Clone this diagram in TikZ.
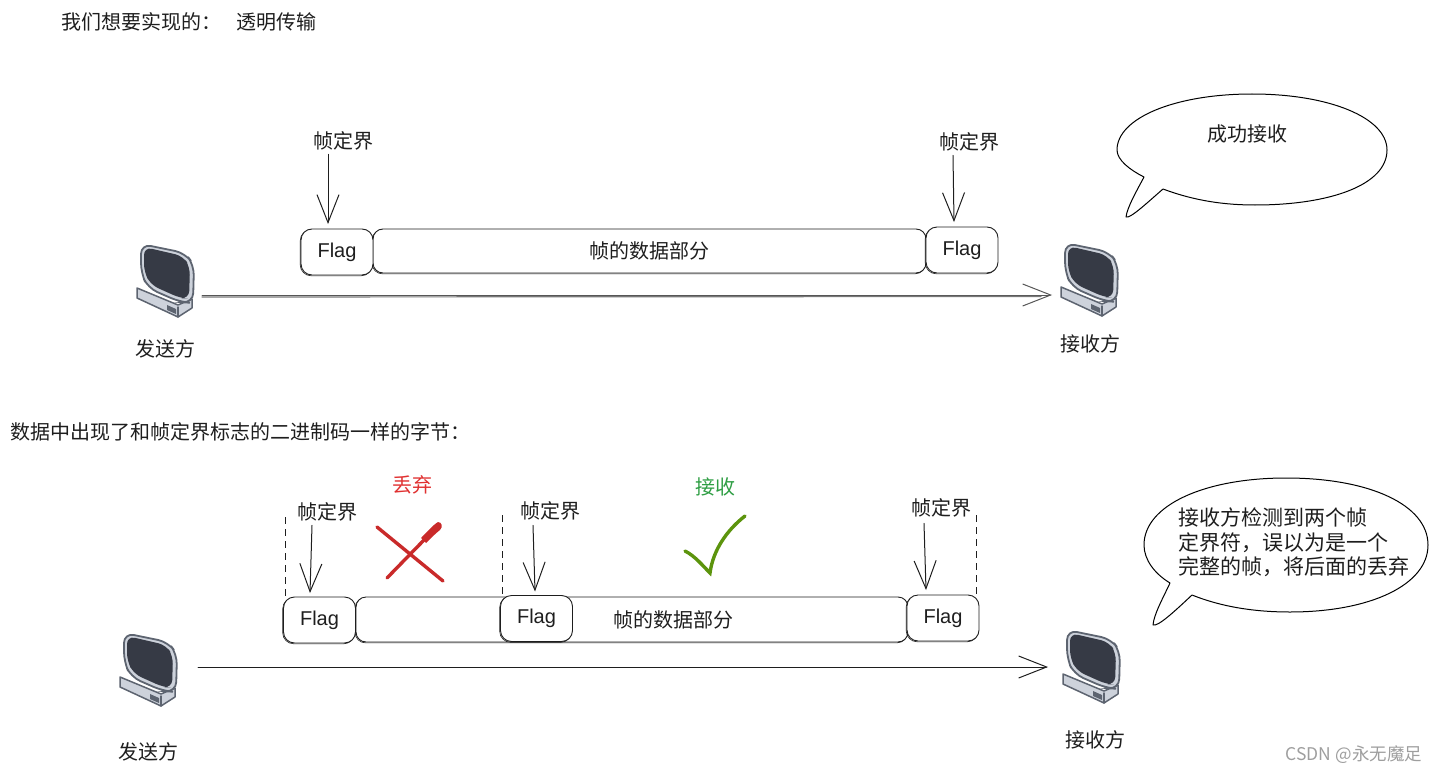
\documentclass[tikz,border=0pt]{standalone}
\usepackage{fontspec}
\setmainfont{Liberation Sans}
\newfontfamily\cjk{Noto Sans CJK SC}
\usetikzlibrary{arrows.meta}
\definecolor{inkC}{HTML}{1E1E1E}
\definecolor{caseC}{HTML}{5D6470}
\definecolor{shellC}{HTML}{CDD2DB}
\definecolor{screenC}{HTML}{363A45}
\definecolor{crossC}{HTML}{C92A2A}
\definecolor{checkC}{HTML}{5C940D}
\definecolor{dropC}{HTML}{E03131}
\definecolor{takeC}{HTML}{2F9E44}
\tikzset{
	txt/.style={font=\cjk\fontsize{20}{24}\selectfont, text=inkC, inner sep=0pt, outer sep=0pt},
	rough/.style={draw=inkC, line width=.9pt, preaction={draw=inkC, line width=.6pt, transform canvas={shift={(-.8pt,-.8pt)}}}},
	flagbox/.style={rough, fill=white, rounded corners=11pt, minimum width=72pt, minimum height=46pt, inner sep=0pt, outer sep=0pt, text=inkC, font=\fontsize{20}{24}\selectfont},
	databox/.style={rough, fill=white, rounded corners=10pt, minimum height=44pt, inner sep=0pt, outer sep=0pt, font=\cjk\fontsize{20}{24}\selectfont, text=inkC},
	pcbox/.style={minimum width=56pt, minimum height=74pt, inner sep=0pt, outer sep=0pt},
	arr/.style={-{Straight Barb[length=28pt,width=22pt]}, draw=inkC, line width=1pt},
	cut/.style={draw=inkC, line width=1pt, line cap=butt, dash pattern=on 7pt off 5pt},
	bubble/.style={draw=black, line width=1pt, line join=round},
	computer/.pic={
		% chân đế
		\draw[draw=caseC, fill=shellC, line width=1.5pt, line join=round] (0,43) -- (41,60) -- (55,54) -- (55,63) -- (41,72) -- (0,53) -- cycle;
		\draw[draw=caseC, line width=1.5pt] (41,62) -- (41,72);
		\fill[caseC] (30,60) -- (39,64) -- (39,69) -- (30,65) -- cycle;
		% vỏ màn hình
		\draw[draw=caseC, fill=shellC, line width=1.8pt, rounded corners=10pt] (4,-1) -- (48,8) -- (57,20) -- (56,58) -- (43,57) -- (11,43) -- (4,28) -- cycle;
		% màn hình
		\fill[screenC, rounded corners=8pt] (7,2) -- (46,11) -- (53,22) -- (52,54) -- (43,53) -- (14,40) -- (7,27) -- cycle;
	}
}
\begin{document}
\begin{tikzpicture}[x=1pt, y=-1pt, line cap=round]
	\useasboundingbox (0,0) rectangle (1437,773);

	% Phần trên
	\node[txt, anchor=west] (titleA) at (61.5,22) {我们想要实现的：};
	\node[txt, anchor=west] (titleAb) at (236,22) {透明传输};

	\node[txt] (markAl) at (343,141) {帧定界};
	\node[txt] (markAr) at (969,142) {帧定界};

	\node[databox, minimum width=553pt] (dataA) at (649.5,251) {帧的数据部分};
	\node[flagbox] (flagAl) at (337,252) {Flag};
	\node[flagbox] (flagAr) at (962,250) {Flag};

	\draw[arr] ([xshift=-15pt,yshift=-4pt]markAl.south) -- ([xshift=-9pt,yshift=5pt]flagAl.north);
	\draw[arr] ([xshift=-16pt,yshift=-4pt]markAr.south) -- ([xshift=-8pt,yshift=5pt]flagAr.north);

	% Máy gửi và máy nhận
	\node[pcbox] (sendA) at (165,282) {};
	\node[pcbox] (recvA) at (1089,281) {};
	\pic at (sendA.north west) {computer};
	\pic at (recvA.north west) {computer};
	\node[txt] (sendAt) at (165,349) {发送方};
	\node[txt] (recvAt) at (1090,344) {接收方};

	\draw[arr, draw=inkC!75, shorten <=9pt, shorten >=9pt] ([yshift=-13pt]sendA.east) -- ([yshift=-14pt]recvA.west);
	\draw[draw=inkC!60, line width=1.2pt, shorten <=9pt, shorten >=20pt] ([yshift=-15pt]sendA.east) -- ([yshift=-15.5pt]recvA.west);

	% Lời thoại 1
	\draw[bubble] (1163,189) .. controls (1195,201) and (1225,205) .. (1255,205)
		.. controls (1330,205) and (1387,185) .. (1387,150)
		.. controls (1387,118) and (1330,94) .. (1252,94)
		.. controls (1175,94) and (1117,118) .. (1117,150)
		.. controls (1117,160) and (1130,170) .. (1144,177)
		.. controls (1136,192) and (1127,208) .. (1126,217)
		.. controls (1130,219) and (1148,202) .. (1163,189) -- cycle;
	\node[txt] (okA) at (1247.5,134) {成功接收};

	% Phần dưới
	\node[txt, anchor=west] (titleB) at (10,432) {数据中出现了和帧定界标志的二进制码一样的字节：};

	\node[txt, text=dropC] (dropB) at (412,485) {丢弃};
	\node[txt, text=takeC] (takeB) at (715,487) {接收};

	\node[txt] (markBl) at (327,512) {帧定界};
	\node[txt] (markBm) at (550,511) {帧定界};
	\node[txt] (markBr) at (941,508) {帧定界};

	\node[databox, minimum width=552pt, minimum height=45pt] (dataB) at (632,619.5) {};
	\node[txt] (dataBt) at (673,620) {帧的数据部分};
	\node[flagbox] (flagBl) at (319.5,620) {Flag};
	\node[flagbox] (flagBm) at (536.5,618.5) {Flag};
	\node[flagbox] (flagBr) at (943,618) {Flag};

	% Các đường nét đứt
	\draw[cut] (285,517) -- ([xshift=-34.5pt]flagBl.north);
	\draw[cut] (502,515) -- ([xshift=-34.5pt]flagBm.north);
	\draw[cut] (976,515) -- ([xshift=33pt]flagBr.north);

	\draw[arr] ([xshift=-15pt,yshift=-4pt]markBl.south) -- ([xshift=-9.5pt,yshift=4pt]flagBl.north);
	\draw[arr] ([xshift=-17pt,yshift=-5pt]markBm.south) -- ([xshift=-1.5pt,yshift=4pt]flagBm.north);
	\draw[arr] ([xshift=-17pt,yshift=-6pt]markBr.south) -- ([xshift=-17pt,yshift=5pt]flagBr.north);

	% Dấu nhân và dấu tích
	\draw[crossC, line width=3.4pt] (377,527) -- (443,581);
	\draw[crossC, line width=3.4pt] (387,578) -- (424,540);
	\fill[crossC] (421,538) .. controls (427,532) and (433,525) .. (438,522) .. controls (442,522) and (443,527) .. (440,530) .. controls (436,533) and (431,538) .. (426,543) -- cycle;
	\draw[checkC, line width=3.4pt] (685,551) .. controls (695,556) and (703,566) .. (710,573) .. controls (713,550) and (727,530) .. (745,516);

	% Máy gửi và máy nhận
	\node[pcbox] (sendB) at (148,671) {};
	\node[pcbox] (recvB) at (1091,668) {};
	\pic at (sendB.north west) {computer};
	\pic at (recvB.north west) {computer};
	\node[txt] (sendBt) at (148,752) {发送方};
	\node[txt] (recvBt) at (1095,740) {接收方};

	\draw[arr, shorten <=22pt, shorten >=15pt] ([yshift=4pt]sendB.east) -- ([yshift=1pt]recvB.west);

	% Lời thoại 2
	\draw[bubble] (1192,595) .. controls (1222,607) and (1255,612) .. (1290,612)
		.. controls (1370,612) and (1428,585) .. (1428,545)
		.. controls (1428,505) and (1370,478) .. (1286,478)
		.. controls (1205,478) and (1144,505) .. (1144,545)
		.. controls (1144,560) and (1155,574) .. (1170,583)
		.. controls (1163,598) and (1154,614) .. (1153,625)
		.. controls (1158,627) and (1176,610) .. (1192,595) -- cycle;
	\node[txt, anchor=north west, align=left, font=\cjk\fontsize{21}{24.3}\selectfont] (noteB) at (1178,508) {接收方检测到两个帧\\定界符，误以为是一个\\完整的帧，将后面的丢弃};

	% Ghi chú góc
	\node[txt, anchor=east, text=black!38, font=\cjk\fontsize{17.5}{20}\selectfont] (markC) at (1422,755) {CSDN @永无魔足};
\end{tikzpicture}
\end{document}
